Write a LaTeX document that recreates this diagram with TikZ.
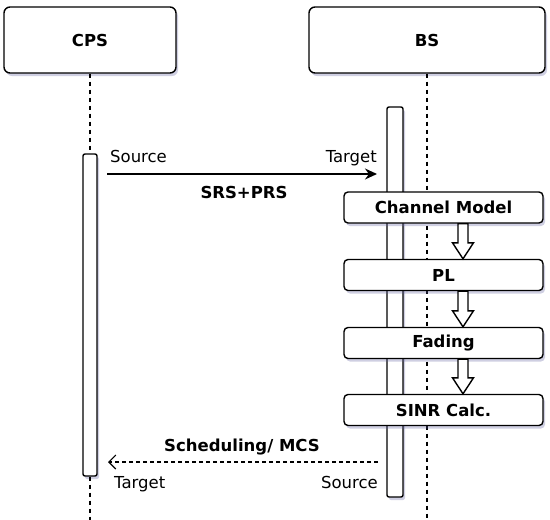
\documentclass[tikz,border=0pt]{standalone}
\usepackage{fontspec}
\setmainfont{DejaVu Sans}
\usetikzlibrary{arrows.meta, calc, shadows}
\tikzstyle{softshadow}=[drop shadow={shadow xshift=2pt, shadow yshift=-3pt, opacity=0.3, fill=blue!25!gray}]
\tikzstyle{head}=[rectangle, draw, rounded corners=6pt, line width=1.4pt, fill=white, minimum height=66pt, font=\fontsize{16.5}{20}\selectfont\bfseries, softshadow]
\tikzstyle{bar}=[rectangle, draw, rounded corners=2pt, line width=1.4pt, fill=white, inner sep=0pt, softshadow]
\tikzstyle{stepbox}=[rectangle, draw, rounded corners=4pt, line width=1.4pt, fill=white, inner sep=0pt, minimum width=199pt, minimum height=31pt, font=\fontsize{16.5}{20}\selectfont\bfseries, softshadow]
\tikzstyle{lbl}=[inner sep=1pt, fill=white, font=\fontsize{16.5}{20}\selectfont]
\tikzstyle{msg}=[inner sep=1pt, fill=white, font=\fontsize{16.5}{20}\selectfont\bfseries]
\tikzstyle{life}=[line width=1.1pt, dash pattern=on 4pt off 4pt]
\newcommand{\stepdown}[2]{
	\draw[line width=1.4pt, fill=white] ($(#1.south)+(14.5,0)$) -- ++(10,0) -- ($(#2.north)+(24.5,-16)$) -- ++(5.5,0)
	-- ($(#2.north)+(19.5,0)$) -- ++(-10.5,-16) -- ++(5.5,0) -- cycle;
}

\begin{document}
\begin{tikzpicture}[x=1pt, y=-1pt]
\useasboundingbox (0,0) rectangle (550,520);
% lifeline heads
\node[head, minimum width=172pt] (cps) at (90,40) {CPS};
\node[head, minimum width=236pt] (bs) at (427,40) {BS};
\coordinate (cpsend) at (90,520);
\coordinate (bsend) at (427,520);
\draw[life] (bs.south) -- (bsend);
% activation bars
\node[bar, minimum width=14pt, minimum height=322pt] (cpsbar) at (90,315) {};
\node[bar, minimum width=16pt, minimum height=390pt] (bsbar) at (395,302) {};
\draw[life] (cps.south) -- (cpsbar.north) (cpsbar.south) -- (cpsend);
% request
\coordinate (req1) at (107,174);
\coordinate (req2) at (377,174);
\draw[line width=1.4pt, -{Stealth[length=12pt, width=11pt]}] (req1) -- (req2);
\node[lbl, anchor=base west] (src1) at (109,162) {Source};
\node[lbl, anchor=base east] (tgt1) at (378,162) {Target};
\node[msg] (srs) at (244,192) {SRS+PRS};
% processing chain
\foreach \name/\y/\txt in {cm/207.5/Channel Model, pl/275/PL, fad/343/Fading, sinr/410/SINR Calc.}{
	\node[stepbox] (\name) at (443.5,\y) {\txt};
	}
\foreach \a/\b in {cm/pl, pl/fad, fad/sinr}{
	\stepdown{\a}{\b}
	}
% reply
\coordinate (rep1) at (378,462);
\coordinate (rep2) at (108,462);
\draw[line width=1.1pt, dash pattern=on 4pt off 3pt, -{Straight Barb[length=7pt, width=14pt]}] (rep1) -- (rep2);
\node[msg] (sched) at (242,447) {Scheduling/ MCS};
\node[lbl, anchor=base west] (tgt2) at (113,488) {Target};
\node[lbl, anchor=base east] (src2) at (379,488) {Source};
\end{tikzpicture}
\end{document}
